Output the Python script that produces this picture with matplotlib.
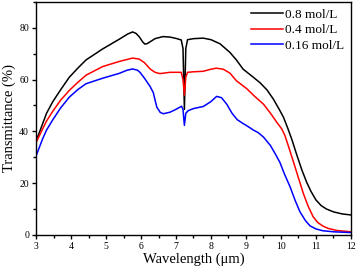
import matplotlib
matplotlib.use("Agg")
import matplotlib.pyplot as plt
from matplotlib.ticker import MultipleLocator

plt.rcParams['font.family'] = ['Liberation Serif', 'DejaVu Serif']

labels = ["0.8 mol/L", "0.4 mol/L", "0.16 mol/L"]
colors = ["black", "red", "blue"]

x_08 = [3.0, 3.05, 3.19, 3.3, 3.48, 3.7, 3.95, 4.2, 4.43, 4.9, 5.38, 5.62, 5.76, 5.86, 5.95,
        6.05, 6.11, 6.18, 6.25, 6.4, 6.63, 6.83, 7.0, 7.15, 7.2, 7.24, 7.28, 7.33, 7.5, 7.78,
        8.0, 8.26, 8.54, 8.73, 8.92, 9.2, 9.4, 9.6, 9.78, 9.95, 10.07, 10.2, 10.32, 10.45,
        10.6, 10.73, 10.85, 11.0, 11.15, 11.3, 11.5, 11.75, 12.0]
y_08 = [36.5, 38, 43, 47, 51.5, 56, 60.9, 64.5, 67.6, 71.8, 75.6, 77.6, 78.4, 77.8, 76.5,
        74.5, 73.7, 73.9, 74.5, 75.8, 76.6, 76.4, 75.9, 75.3, 72, 48.5, 72, 75.4, 75.8, 76,
        75.4, 73.8, 70.5, 67.5, 64, 61, 58.8, 56, 52.5, 48.5, 45.5, 41, 36.5, 31,
        25, 20.5, 17, 13.5, 11.3, 10, 8.9, 8.1, 7.7]

x_04 = [3.0, 3.03, 3.19, 3.3, 3.48, 3.7, 3.95, 4.2, 4.43, 4.9, 5.38, 5.76, 5.95, 6.1, 6.26,
        6.4, 6.54, 6.83, 7.15, 7.2, 7.24, 7.28, 7.33, 7.5, 7.78, 8.0, 8.15, 8.35, 8.54, 8.73,
        9.02, 9.25, 9.5, 9.7, 9.88, 10.02, 10.11, 10.22, 10.35, 10.5, 10.64, 10.78, 10.92,
        11.05, 11.2, 11.35, 11.6, 12.0]
y_04 = [35.5, 36.5, 41, 44, 47.8, 52, 55.8, 59, 61.7, 65, 67, 68.3, 67.9, 66.5, 64.1,
        62.8, 62.3, 62.8, 62.8, 60, 54, 61, 62.8, 63, 63.2, 64, 64.4, 64, 62.5, 59.5,
        56.5, 53.5, 50.5, 47, 43.5, 41, 38.5, 34, 28.5, 22, 16, 11, 7,
        4.8, 3.4, 2.5, 1.7, 1.2]

x_016 = [3.0, 3.08, 3.19, 3.3, 3.48, 3.7, 3.95, 4.2, 4.43, 4.9, 5.38, 5.6, 5.76, 5.9, 5.97,
         6.1, 6.26, 6.35, 6.45, 6.55, 6.64, 6.83, 7.0, 7.16, 7.2, 7.24, 7.28, 7.35, 7.5, 7.78,
         8.0, 8.16, 8.3, 8.45, 8.6, 8.75, 8.92, 9.1, 9.21, 9.35, 9.5, 9.7, 9.85, 9.97, 10.1,
         10.26, 10.4, 10.54, 10.7, 10.83, 11.0, 11.2, 11.5, 12.0]
y_016 = [30.5, 33.3, 37.2, 40.5, 44.5, 49, 53.2, 56.2, 58.4, 60.5, 62.4, 63.6, 64.1, 63.6, 62.8,
         60.5, 57.3, 55, 49.4, 47.3, 46.8, 47.4, 48.5, 49.7, 48.5, 42.3, 47, 48, 48.8, 49.6,
         51.5, 53.5, 53, 50.5, 47, 44.5, 43, 41.5, 40.5, 39.5, 37.8, 34.5, 31, 28, 23.5,
         18.6, 13.5, 9, 5.5, 3.5, 2.3, 1.6, 1.2, 0.9]

fig = plt.figure(figsize=(3.57, 2.70), dpi=100)
ax = fig.add_axes([0.101, 0.13, 0.882, 0.863])

for xs, ys, c, lab in [(x_08, y_08, colors[0], labels[0]),
                       (x_04, y_04, colors[1], labels[1]),
                       (x_016, y_016, colors[2], labels[2])]:
    ax.plot(xs, ys, color=c, lw=1.1, label=lab)

ax.set_xlim(3, 12)
ax.set_ylim(0, 90)
ax.xaxis.set_major_locator(MultipleLocator(1))
ax.xaxis.set_minor_locator(MultipleLocator(0.5))
ax.yaxis.set_major_locator(MultipleLocator(20))
ax.yaxis.set_minor_locator(MultipleLocator(10))
ax.tick_params(which='major', direction='out', length=3, width=1, labelsize=7, pad=2)
ax.tick_params(which='minor', direction='out', length=2, width=1)
for s in ax.spines.values():
    s.set_linewidth(1)

ax.set_xlabel("Wavelength (μm)", fontsize=10.5, labelpad=1)
ax.set_ylabel("Transmittance (%)", fontsize=10.5, labelpad=2)

ax.legend(loc='upper right', frameon=False, fontsize=9.5, handlelength=2.4,
          handletextpad=0.2, labelspacing=0.25, borderaxespad=0.1)

fig.savefig("out.png", dpi=100)
